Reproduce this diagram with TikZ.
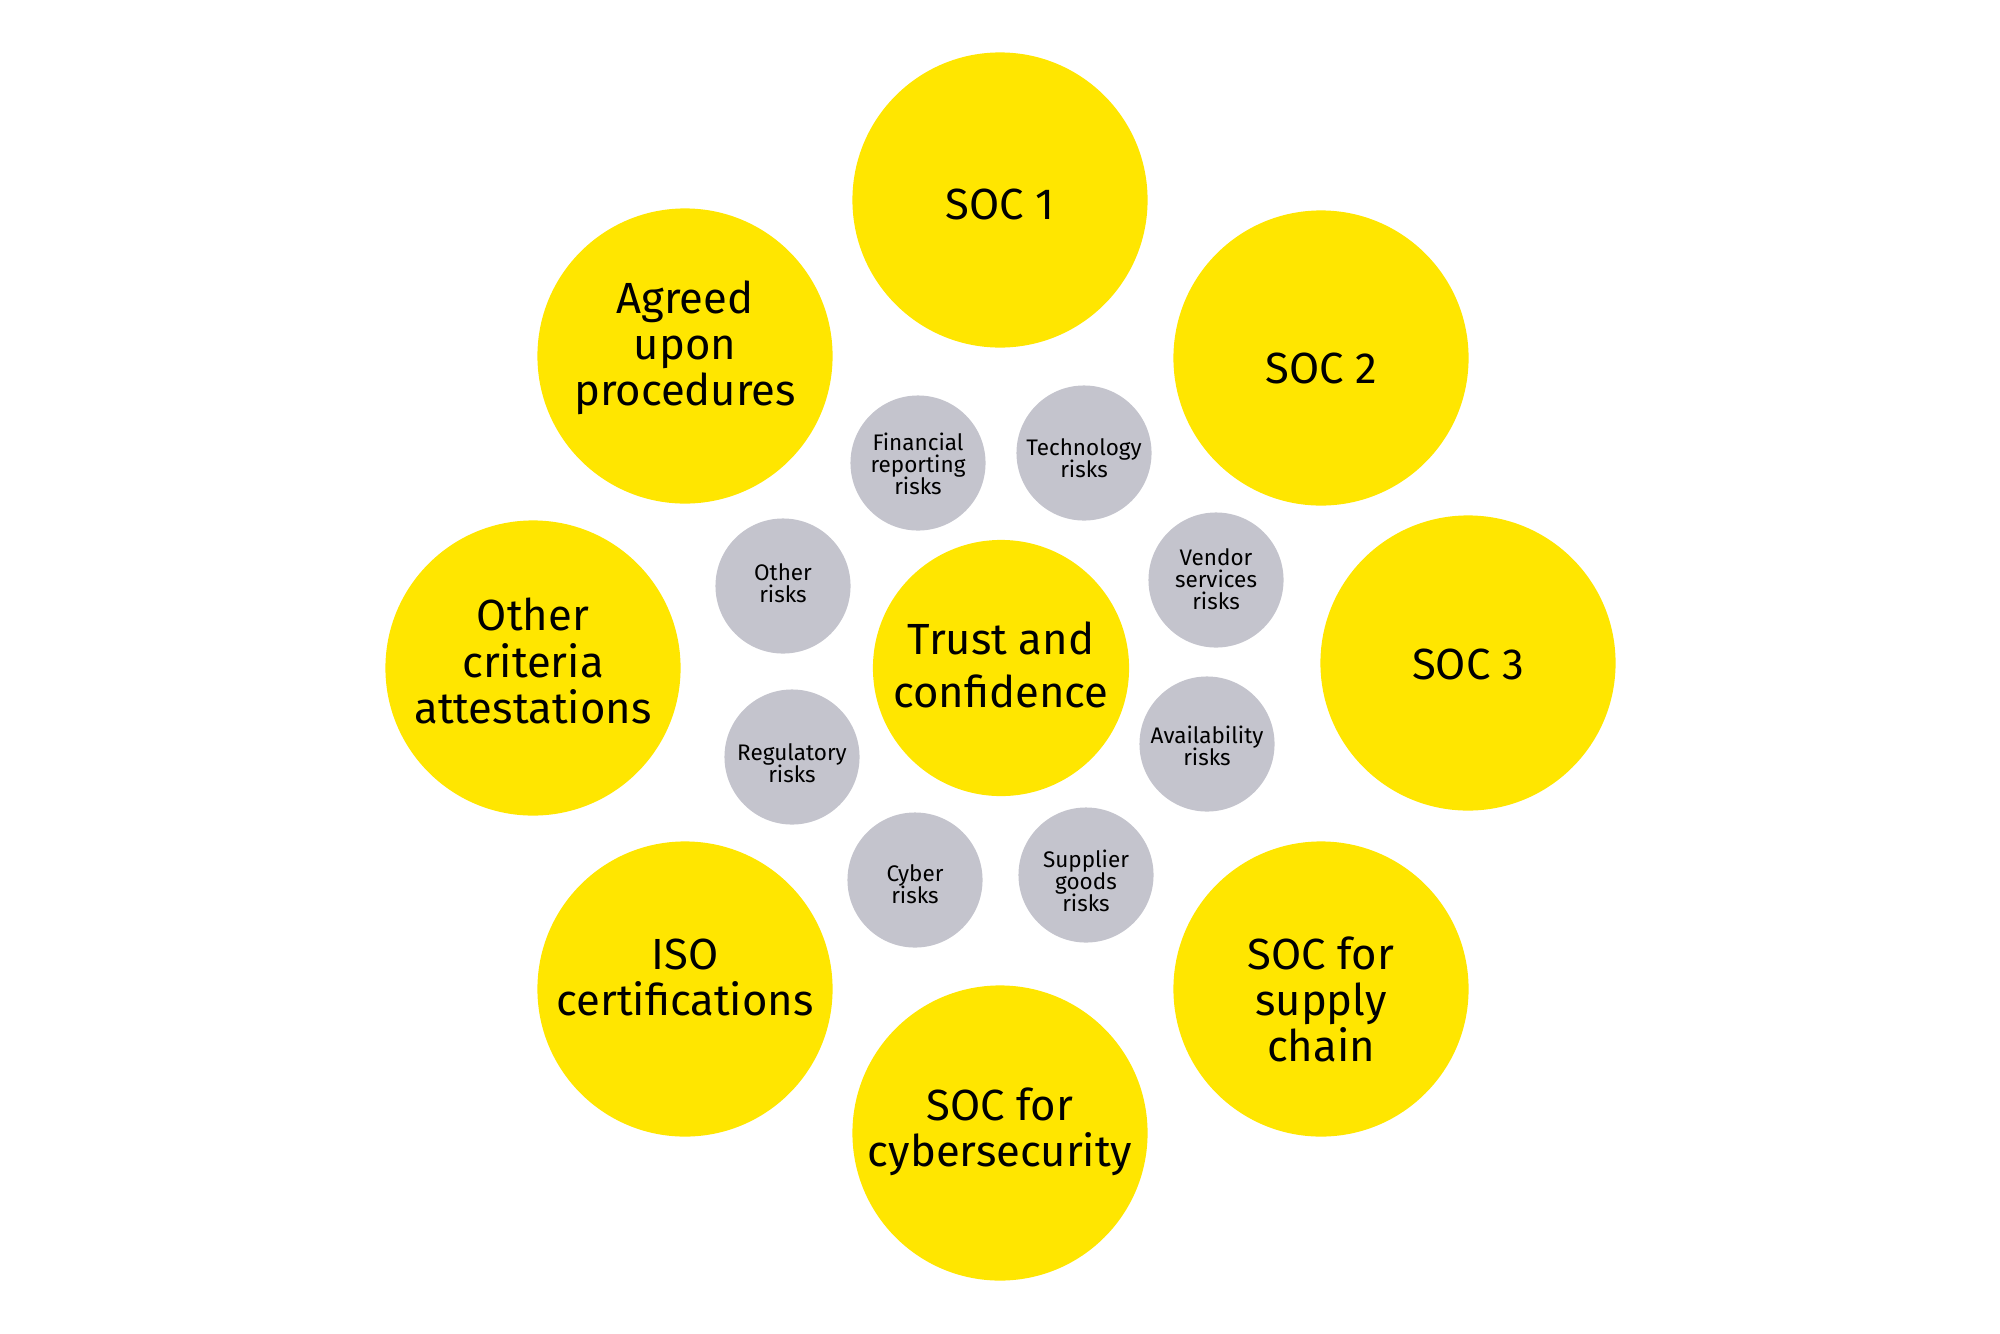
\documentclass[tikz,border=0pt]{standalone}
\usepackage{fontspec}
\setmainfont{Fira Sans}
\definecolor{eyyellow}{HTML}{FFE600}
\definecolor{eygrey}{HTML}{C4C4CD}
\lineskiplimit=-50pt
\lineskip=0pt
\begin{document}
\begin{tikzpicture}[x=0.01cm,y=-0.01cm,
  big/.style={circle,fill=eyyellow,minimum size=2.95cm,inner sep=0pt},
  hub/.style={circle,fill=eyyellow,minimum size=2.56cm,inner sep=0pt},
  risk/.style={circle,fill=eygrey,minimum size=1.35cm,inner sep=0pt},
  bigtxt/.style={inner sep=0pt,align=center,font=\fontsize{12.4}{13.1}\selectfont},
  hubtxt/.style={inner sep=0pt,align=center,font=\fontsize{12.4}{15.1}\selectfont},
  risktxt/.style={inner sep=0pt,align=center,font=\fontsize{6.4}{6.2}\selectfont}]
\useasboundingbox (0,0) rectangle (2000,1333);
% outer circles
\node[big] (soc1) at (1000,200) {};
\node[big] (soc2) at (1321,358) {};
\node[big] (soc3) at (1468,663) {};
\node[big] (socsc) at (1321,989) {};
\node[big] (soccy) at (1000,1133) {};
\node[big] (iso) at (685,989) {};
\node[big] (oca) at (533,668) {};
\node[big] (aup) at (685,356) {};
\node[bigtxt] (soc1t) at (1000,204) {SOC 1};
\node[bigtxt] (soc2t) at (1321,368) {SOC 2};
\node[bigtxt] (soc3t) at (1468,664) {SOC 3};
\node[bigtxt] (socsct) at (1321,999) {SOC for\\supply\\chain};
\node[bigtxt] (soccyt) at (1000,1132) {SOC for\\cybersecurity};
\node[bigtxt] (isot) at (685,977) {ISO\\certifications};
\node[bigtxt] (ocat) at (533,661) {Other\\criteria\\attestations};
\node[bigtxt] (aupt) at (685,348) {Agreed\\upon\\procedures};
% hub
\node[hub] (trust) at (1001,668) {};
\node[hubtxt] (trustt) at (1001,665) {Trust and\\confidence};
% risks
\node[risk] (fin) at (918,463) {};
\node[risk] (tech) at (1084,453) {};
\node[risk] (vend) at (1216,580) {};
\node[risk] (avail) at (1207,744) {};
\node[risk] (supp) at (1086,875) {};
\node[risk] (cyber) at (915,880) {};
\node[risk] (reg) at (792,757) {};
\node[risk] (oth) at (783,586) {};
\node[risktxt] (fint) at (918,464) {Financial\\reporting\\risks};
\node[risktxt] (techt) at (1084,458) {Technology\\risks};
\node[risktxt] (vendt) at (1216,579) {Vendor\\services\\risks};
\node[risktxt] (availt) at (1207,746) {Availability\\risks};
\node[risktxt] (suppt) at (1086,881) {Supplier\\goods\\risks};
\node[risktxt] (cybert) at (915,884) {Cyber\\risks};
\node[risktxt] (regt) at (792,763) {Regulatory\\risks};
\node[risktxt] (otht) at (783,583) {Other\\risks};
\end{tikzpicture}
\end{document}
